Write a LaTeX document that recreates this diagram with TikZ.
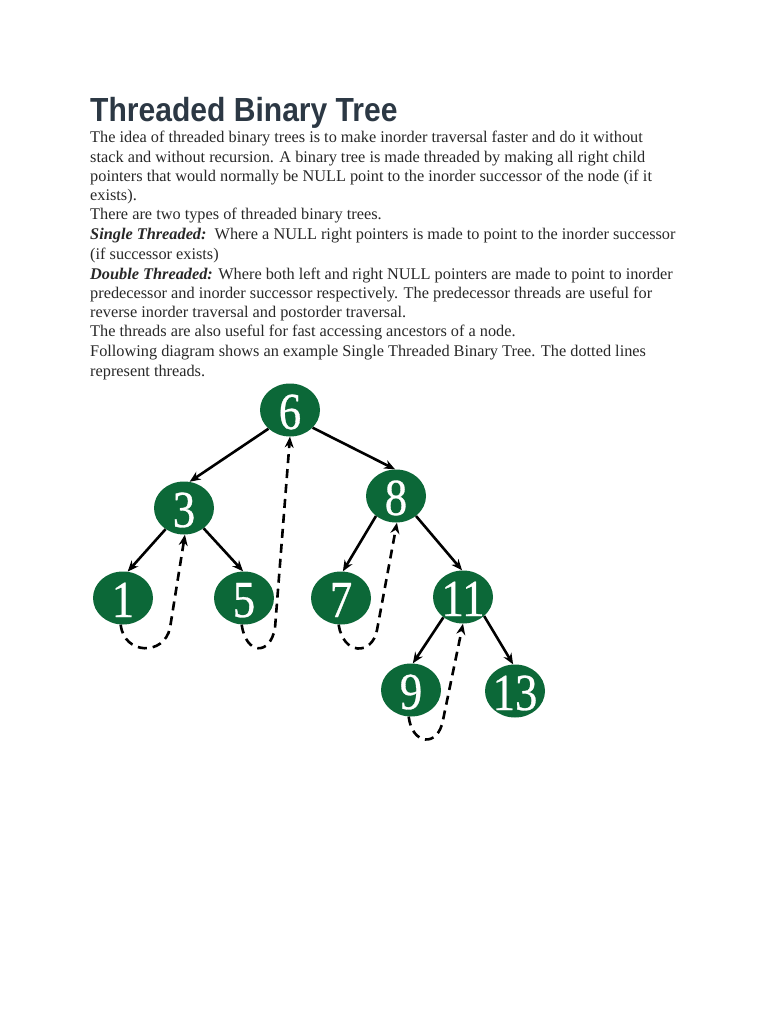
\documentclass[tikz,border=0pt]{standalone}
\usepackage{fontspec}
\setmainfont{Liberation Serif}
\newfontfamily\titlefont[FakeStretch=0.9]{Liberation Sans}
\newfontfamily\digitfont[FakeStretch=0.86,FakeBold=0.6]{Liberation Serif}
\usetikzlibrary{shapes.geometric,arrows.meta}
\definecolor{tgreen}{RGB}{12,104,56}
\definecolor{titlecol}{RGB}{44,56,68}
\definecolor{bodycol}{RGB}{40,40,40}
\newcommand\dg[1]{\makebox[0pt]{\raisebox{0pt}[0pt][0pt]{\raisebox{-19pt}{#1}}}}
\begin{document}
\begin{tikzpicture}[x=1pt,y=-1pt,
  tnode/.style={ellipse,fill=tgreen,draw=none,minimum width=60pt,minimum height=53pt,inner sep=0pt,
    text=white,font=\digitfont\fontsize{52}{52}\selectfont},
  edge/.style={line width=2.6pt,-{Stealth[length=11pt,width=9pt]}},
  thread/.style={line width=2.6pt,dash pattern=on 9pt off 6pt,-{Stealth[length=11pt,width=9pt]}},
  bodyline/.style={anchor=base west,inner sep=0pt,text=bodycol,font=\fontsize{16.3}{19}\selectfont}]
\useasboundingbox (0,0) rectangle (768,1024);
\fill[white] (0,0) rectangle (768,1024);
\node[anchor=base west,inner sep=0pt,text=titlecol,font=\titlefont\bfseries\fontsize{33.4}{36}\selectfont] (title) at (90,122) {Threaded Binary Tree};
\node[bodyline] (l1) at (90,143) {The idea of threaded binary trees is to make inorder traversal faster and do it without};
\node[bodyline] (l2) at (90,163) {stack and without recursion. A binary tree is made threaded by making all right child};
\node[bodyline] (l3) at (90,182) {pointers that would normally be NULL point to the inorder successor of the node (if it};
\node[bodyline] (l4) at (90,201) {exists).};
\node[bodyline] (l5) at (90,220) {There are two types of threaded binary trees.};
\node[bodyline] (l6) at (90,240) {\textbf{\textit{Single Threaded:}}\ \ Where a NULL right pointers is made to point to the inorder successor};
\node[bodyline] (l7) at (90,259) {(if successor exists)};
\node[bodyline] (l8) at (90,279) {\textbf{\textit{Double Threaded:}} Where both left and right NULL pointers are made to point to inorder};
\node[bodyline] (l9) at (90,298) {predecessor and inorder successor respectively. The predecessor threads are useful for};
\node[bodyline] (l10) at (90,317) {reverse inorder traversal and postorder traversal.};
\node[bodyline] (l11) at (90,336) {The threads are also useful for fast accessing ancestors of a node.};
\node[bodyline] (l12) at (90,356) {Following diagram shows an example Single Threaded Binary Tree. The dotted lines};
\node[bodyline] (l13) at (90,376) {represent threads.};
% tree nodes
\node[tnode] (n6) at (290,410) {\dg{6}};
\node[tnode] (n3) at (184,508) {\dg{3}};
\node[tnode] (n8) at (396,496) {\dg{8}};
\node[tnode] (n1) at (123,598) {\dg{1}};
\node[tnode] (n5) at (244,598) {\dg{5}};
\node[tnode] (n7) at (341,598) {\dg{7}};
\node[tnode] (n11) at (463,597) {\dg{11}};
\node[tnode] (n9) at (411,690) {\dg{9}};
\node[tnode] (n13) at (515,691) {\dg{13}};
% edges
\draw[edge] (n6.221) -- (n3.78);
\draw[edge] (n6.-38) -- (n8.92);
\draw[edge] (n3.229) -- (n1.80);
\draw[edge] (n3.-46) -- (n5.92);
\draw[edge] (n8.225) -- (n7.86);
\draw[edge] (n8.-45) -- (n11.92);
\draw[edge] (n11.226) -- (n9.86);
\draw[edge] (n11.-42) -- (n13.94);
% threads
\draw[thread] (n1.-95) .. controls (124,655) and (164,656) .. (170,628) -- (n3.-88);
\draw[thread] (n5.-95) .. controls (246,655) and (270,656) .. (275,628) -- (n6.-90);
\draw[thread] (n7.-95) .. controls (343,655) and (372,656) .. (377,630) -- (n8.-88);
\draw[thread] (n9.-95) .. controls (412,745) and (438,748) .. (443,720) -- (n11.-90);
\end{tikzpicture}
\end{document}
